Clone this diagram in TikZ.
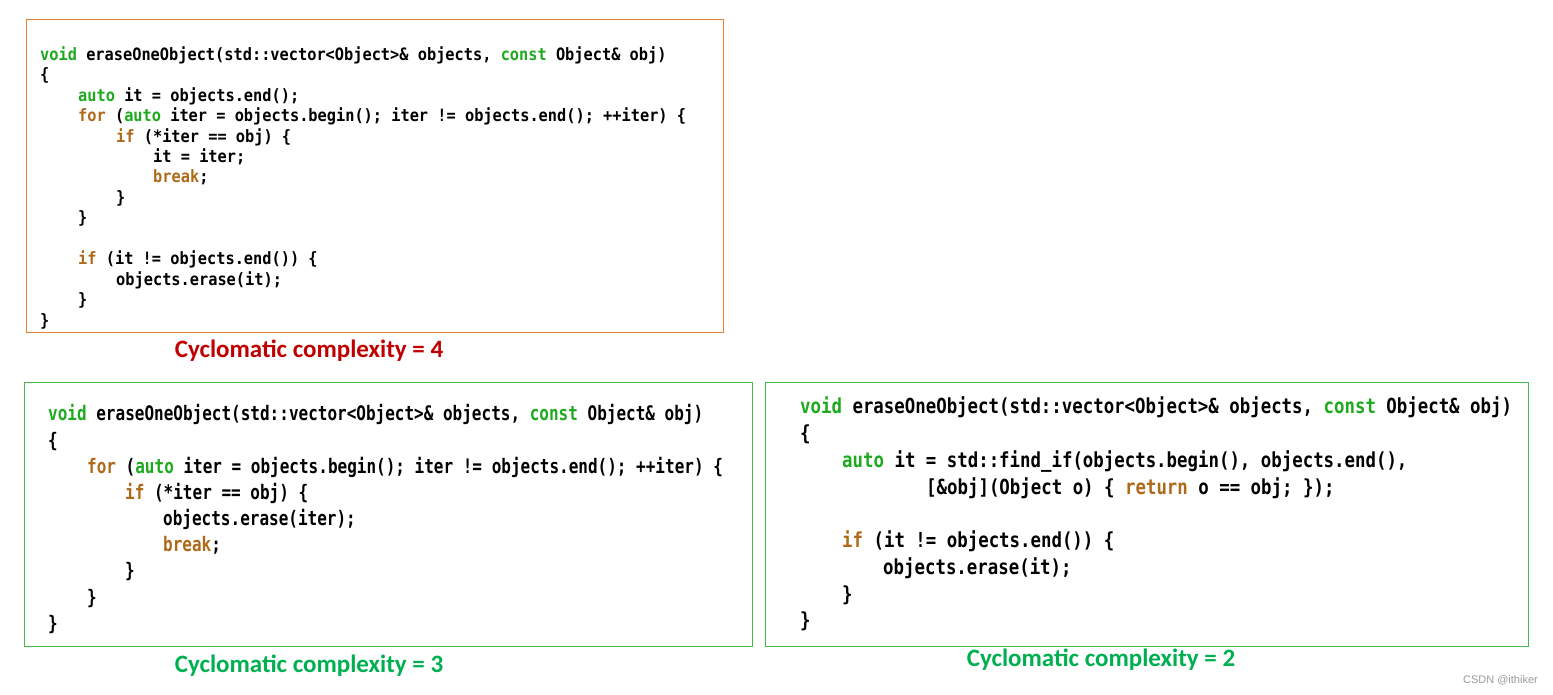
\documentclass[tikz,border=0pt]{standalone}
\usepackage{fontspec}
\setmainfont{Carlito}
\newfontfamily\codeA[FakeStretch=0.9]{DejaVu Sans Mono Bold}
\newfontfamily\codeB[FakeStretch=0.8]{DejaVu Sans Mono Bold}
\newfontfamily\codeC[FakeStretch=0.84]{DejaVu Sans Mono Bold}
\newfontfamily\wm{Liberation Sans}
\definecolor{kwg}{RGB}{30,170,30}
\definecolor{kwb}{RGB}{175,105,25}
\definecolor{bor}{RGB}{237,125,49}
\definecolor{bgr}{RGB}{70,185,70}
\definecolor{tred}{RGB}{192,0,0}
\definecolor{tgrn}{RGB}{0,176,80}
\newcommand{\kg}[1]{\textcolor{kwg}{#1}}
\newcommand{\kb}[1]{\textcolor{kwb}{#1}}
\tikzset{
 la/.style={anchor=base west,inner sep=0pt,font=\codeA\fontsize{17}{17}\selectfont},
 lb/.style={anchor=base west,inner sep=0pt,font=\codeB\fontsize{20}{20}\selectfont},
 lc/.style={anchor=base west,inner sep=0pt,font=\codeC\fontsize{20.7}{20}\selectfont},
 ttl/.style={anchor=center,inner sep=0pt,font=\bfseries\fontsize{25}{25}\selectfont},
 boxo/.style={draw=bor,line width=0.9pt},
 boxg/.style={draw=bgr,line width=0.9pt},
}
\begin{document}
\begin{tikzpicture}[x=1pt,y=-1pt]
\useasboundingbox (0,0) rectangle (1553,695);
\draw[boxo] (26,19) rectangle (723,332);
\draw[boxg] (24,382) rectangle (752,646);
\draw[boxg] (765,382) rectangle (1528,646);
% box 1
\node[la] (a1) at (40,61) {\kg{void} eraseOneObject(std::vector<Object>\& objects, \kg{const} Object\& obj)};
\node[la] (a2) at (40,81) {\{};
\node[la] (a3) at (78,102) {\kg{auto} it = objects.end();};
\node[la] (a4) at (78,122) {\kb{for} (\kg{auto} iter = objects.begin(); iter != objects.end(); ++iter) \{};
\node[la] (a5) at (116,143) {\kb{if} (*iter == obj) \{};
\node[la] (a6) at (153,163) {it = iter;};
\node[la] (a7) at (153,183) {\kb{break};};
\node[la] (a8) at (116,204) {\}};
\node[la] (a9) at (78,224) {\}};
\node[la] (a10) at (78,265) {\kb{if} (it != objects.end()) \{};
\node[la] (a11) at (116,285) {objects.erase(it);};
\node[la] (a12) at (78,305) {\}};
\node[la] (a13) at (40,326) {\}};
% box 2
\node[lb] (b1) at (48,420) {\kg{void} eraseOneObject(std::vector<Object>\& objects, \kg{const} Object\& obj)};
\node[lb] (b2) at (48,447) {\{};
\node[lb] (b3) at (87,473) {\kb{for} (\kg{auto} iter = objects.begin(); iter != objects.end(); ++iter) \{};
\node[lb] (b4) at (125,499) {\kb{if} (*iter == obj) \{};
\node[lb] (b5) at (163,525) {objects.erase(iter);};
\node[lb] (b6) at (163,551) {\kb{break};};
\node[lb] (b7) at (125,577) {\}};
\node[lb] (b8) at (87,604) {\}};
\node[lb] (b9) at (48,630) {\}};
% box 3
\node[lc] (c1) at (800,413) {\kg{void} eraseOneObject(std::vector<Object>\& objects, \kg{const} Object\& obj)};
\node[lc] (c2) at (800,440) {\{};
\node[lc] (c3) at (842,467) {\kg{auto} it = std::find\_if(objects.begin(), objects.end(),};
\node[lc] (c4) at (926,494) {[\&obj](Object o) \{ \kb{return} o == obj; \});};
\node[lc] (c5) at (842,547) {\kb{if} (it != objects.end()) \{};
\node[lc] (c6) at (883,574) {objects.erase(it);};
\node[lc] (c7) at (842,601) {\}};
\node[lc] (c8) at (800,627) {\}};
% titles
\node[ttl,text=tred] (t1) at (309,351) {Cyclomatic complexity = 4};
\node[ttl,text=tgrn] (t2) at (309,666) {Cyclomatic complexity = 3};
\node[ttl,text=tgrn] (t3) at (1101,660) {Cyclomatic complexity = 2};
\node[anchor=east,inner sep=0pt,text=gray!80,font=\wm\fontsize{11}{11}\selectfont] (w) at (1538,680) {CSDN @ithiker};
\end{tikzpicture}
\end{document}
